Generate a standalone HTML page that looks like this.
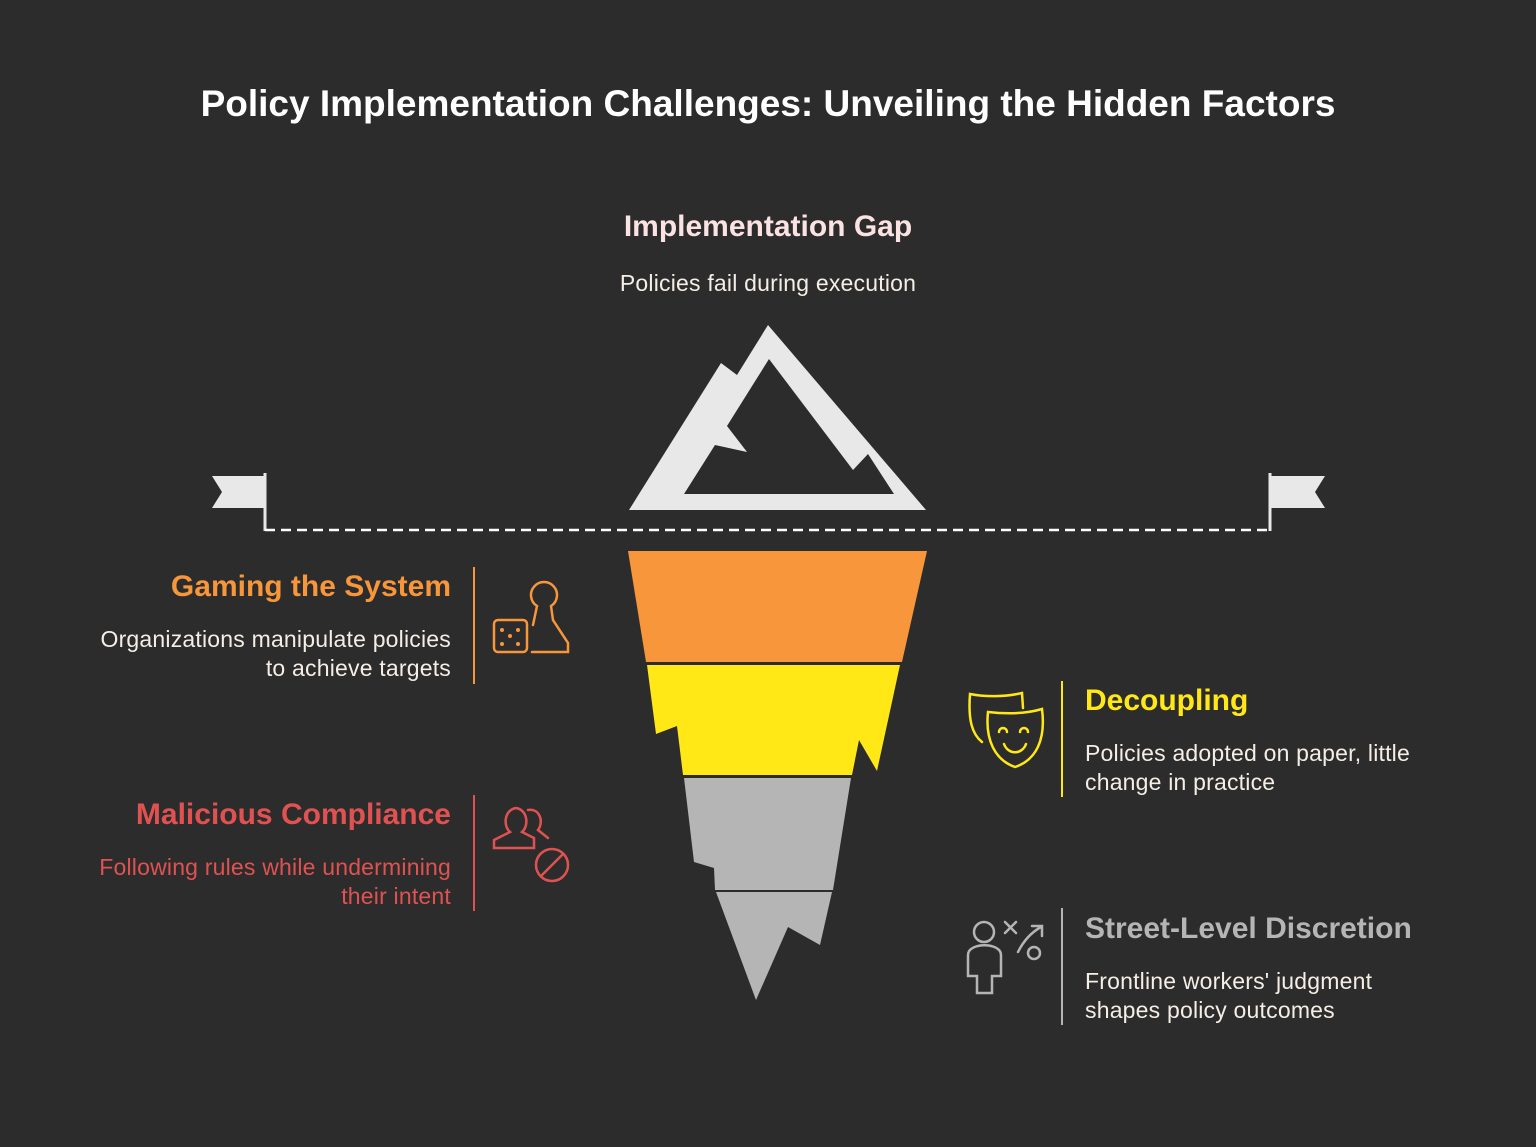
<!DOCTYPE html>
<html><head><meta charset="utf-8"><style>
body{margin:0;width:1536px;height:1147px;background:#2c2c2c;overflow:hidden;font-family:"Liberation Sans",sans-serif;position:relative}
.t{position:absolute;white-space:nowrap;line-height:1}
.b{font-weight:bold}
.r{text-align:right}
.d{font-size:23px;letter-spacing:0.2px;color:#f4eee6;line-height:29px}
.v{position:absolute;width:2px}
</style></head><body>
<div class="t b" style="left:0;width:1536px;text-align:center;top:85px;font-size:37px;color:#fff">Policy Implementation Challenges: Unveiling the Hidden Factors</div>
<div class="t b" style="left:0;width:1536px;text-align:center;top:212px;font-size:30px;color:#fbe3e3">Implementation Gap</div>
<div class="t" style="left:0;width:1536px;text-align:center;top:272px;font-size:23px;letter-spacing:0.2px;color:#f4eee6">Policies fail during execution</div>

<svg width="1536" height="1147" style="position:absolute;left:0;top:0">
<path fill="#e8e8e8" fill-rule="evenodd" d="M768,325 L926,510 L629,510 L721,363 L737,375 Z M684,494 L715,445 L747,452 L727,426 L769,359 L853,470 L868,454 L894,494 Z"/>
<polygon fill="#e8e8e8" points="212,476 265,476 265,508 212,508 222,492"/>
<line x1="265" y1="473" x2="265" y2="531" stroke="#e8e8e8" stroke-width="3"/>
<polygon fill="#e8e8e8" points="1270,476 1325,476 1315,492 1325,508 1270,508"/>
<line x1="1270" y1="473" x2="1270" y2="531" stroke="#e8e8e8" stroke-width="3"/>
<line x1="265" y1="530" x2="1270" y2="530" stroke="#fff" stroke-width="2.5" stroke-dasharray="10,6"/>
<polygon fill="#f7963a" points="628,551 927,551 902,662 646,662"/>
<polygon fill="#ffe815" points="647,665 900,665 877,771 859,740 852,775 683,775 677,726 656,734"/>
<polygon fill="#b5b5b5" points="684,778 851,778 833,890 715,890 714,868 694,862"/>
<polygon fill="#b5b5b5" points="716,892 832,892 820,945 788,927 756,1000"/>
<g fill="none" stroke="#f7963a" stroke-width="2.5" stroke-linecap="round">
<rect x="494" y="620" width="33" height="32" rx="4"/>
<path d="M532,652 L568,652 L568,643 L553,620 L551,606 A13,13 0 1 0 537,606 L533,625"/>
</g>
<g fill="#f7963a"><circle cx="502" cy="630" r="2"/><circle cx="518" cy="630" r="2"/><circle cx="510" cy="636" r="2"/><circle cx="502" cy="644" r="2"/><circle cx="518" cy="644" r="2"/></g>
<g fill="none" stroke="#e05252" stroke-width="2.5" stroke-linecap="round">
<path d="M494,848 L494,840 L510,832 C503,826 504,810 516,808 C528,810 529,826 522,832 L534,838 L534,848 Z"/>
<path d="M528,810 C540,808 544,822 538,830 L548,838"/>
<circle cx="552" cy="865" r="16"/>
<line x1="541" y1="876" x2="563" y2="854"/>
</g>
<g fill="none" stroke="#ffe815" stroke-width="2.5" stroke-linecap="round">
<path d="M982,742 C972,734 968,720 970,694 C985,697 1005,697 1022,693 L1023,708"/>
<path d="M988,712 C1005,714 1025,714 1042,709 C1046,740 1036,760 1015,767 C995,760 985,740 988,712 Z"/>
<path d="M999,732 A4,4 0 0 1 1007,732 M1020,732 A4,4 0 0 1 1028,732"/>
<path d="M1004,744 C1008,755 1022,755 1026,744"/>
</g>
<g fill="none" stroke="#b5b5b5" stroke-width="2.5" stroke-linecap="round">
<circle cx="984" cy="932" r="10"/>
<path d="M977,993 L977,976 L968,976 L968,955 C968,942 1001,942 1001,955 L1001,976 L992,976 L992,993 Z"/>
<path d="M1005,922 L1016,933 M1016,922 L1005,933"/>
<path d="M1018,952 C1024,940 1032,932 1041,927 M1032,926 L1042,926 L1042,936"/>
<circle cx="1034" cy="953" r="6"/>
</g>
</svg>

<div class="v" style="left:473px;top:567px;height:117px;background:#f7963a"></div>
<div class="v" style="left:473px;top:795px;height:116px;background:#e05252"></div>
<div class="v" style="left:1061px;top:681px;height:116px;background:#ffe815"></div>
<div class="v" style="left:1061px;top:908px;height:117px;background:#b5b5b5"></div>

<div class="t b r" style="right:1085px;top:572px;font-size:30px;color:#f7963a">Gaming the System</div>
<div class="t r d" style="right:1085px;top:625px">Organizations manipulate policies<br>to achieve targets</div>
<div class="t b r" style="right:1085px;top:800px;font-size:30px;color:#e05252">Malicious Compliance</div>
<div class="t r d" style="right:1085px;top:853px;color:#e05252">Following rules while undermining<br>their intent</div>
<div class="t b" style="left:1085px;top:686px;font-size:30px;color:#ffe815">Decoupling</div>
<div class="t d" style="left:1085px;top:739px">Policies adopted on paper, little<br>change in practice</div>
<div class="t b" style="left:1085px;top:914px;font-size:30px;color:#b5b5b5">Street-Level Discretion</div>
<div class="t d" style="left:1085px;top:967px">Frontline workers' judgment<br>shapes policy outcomes</div>
</body></html>
